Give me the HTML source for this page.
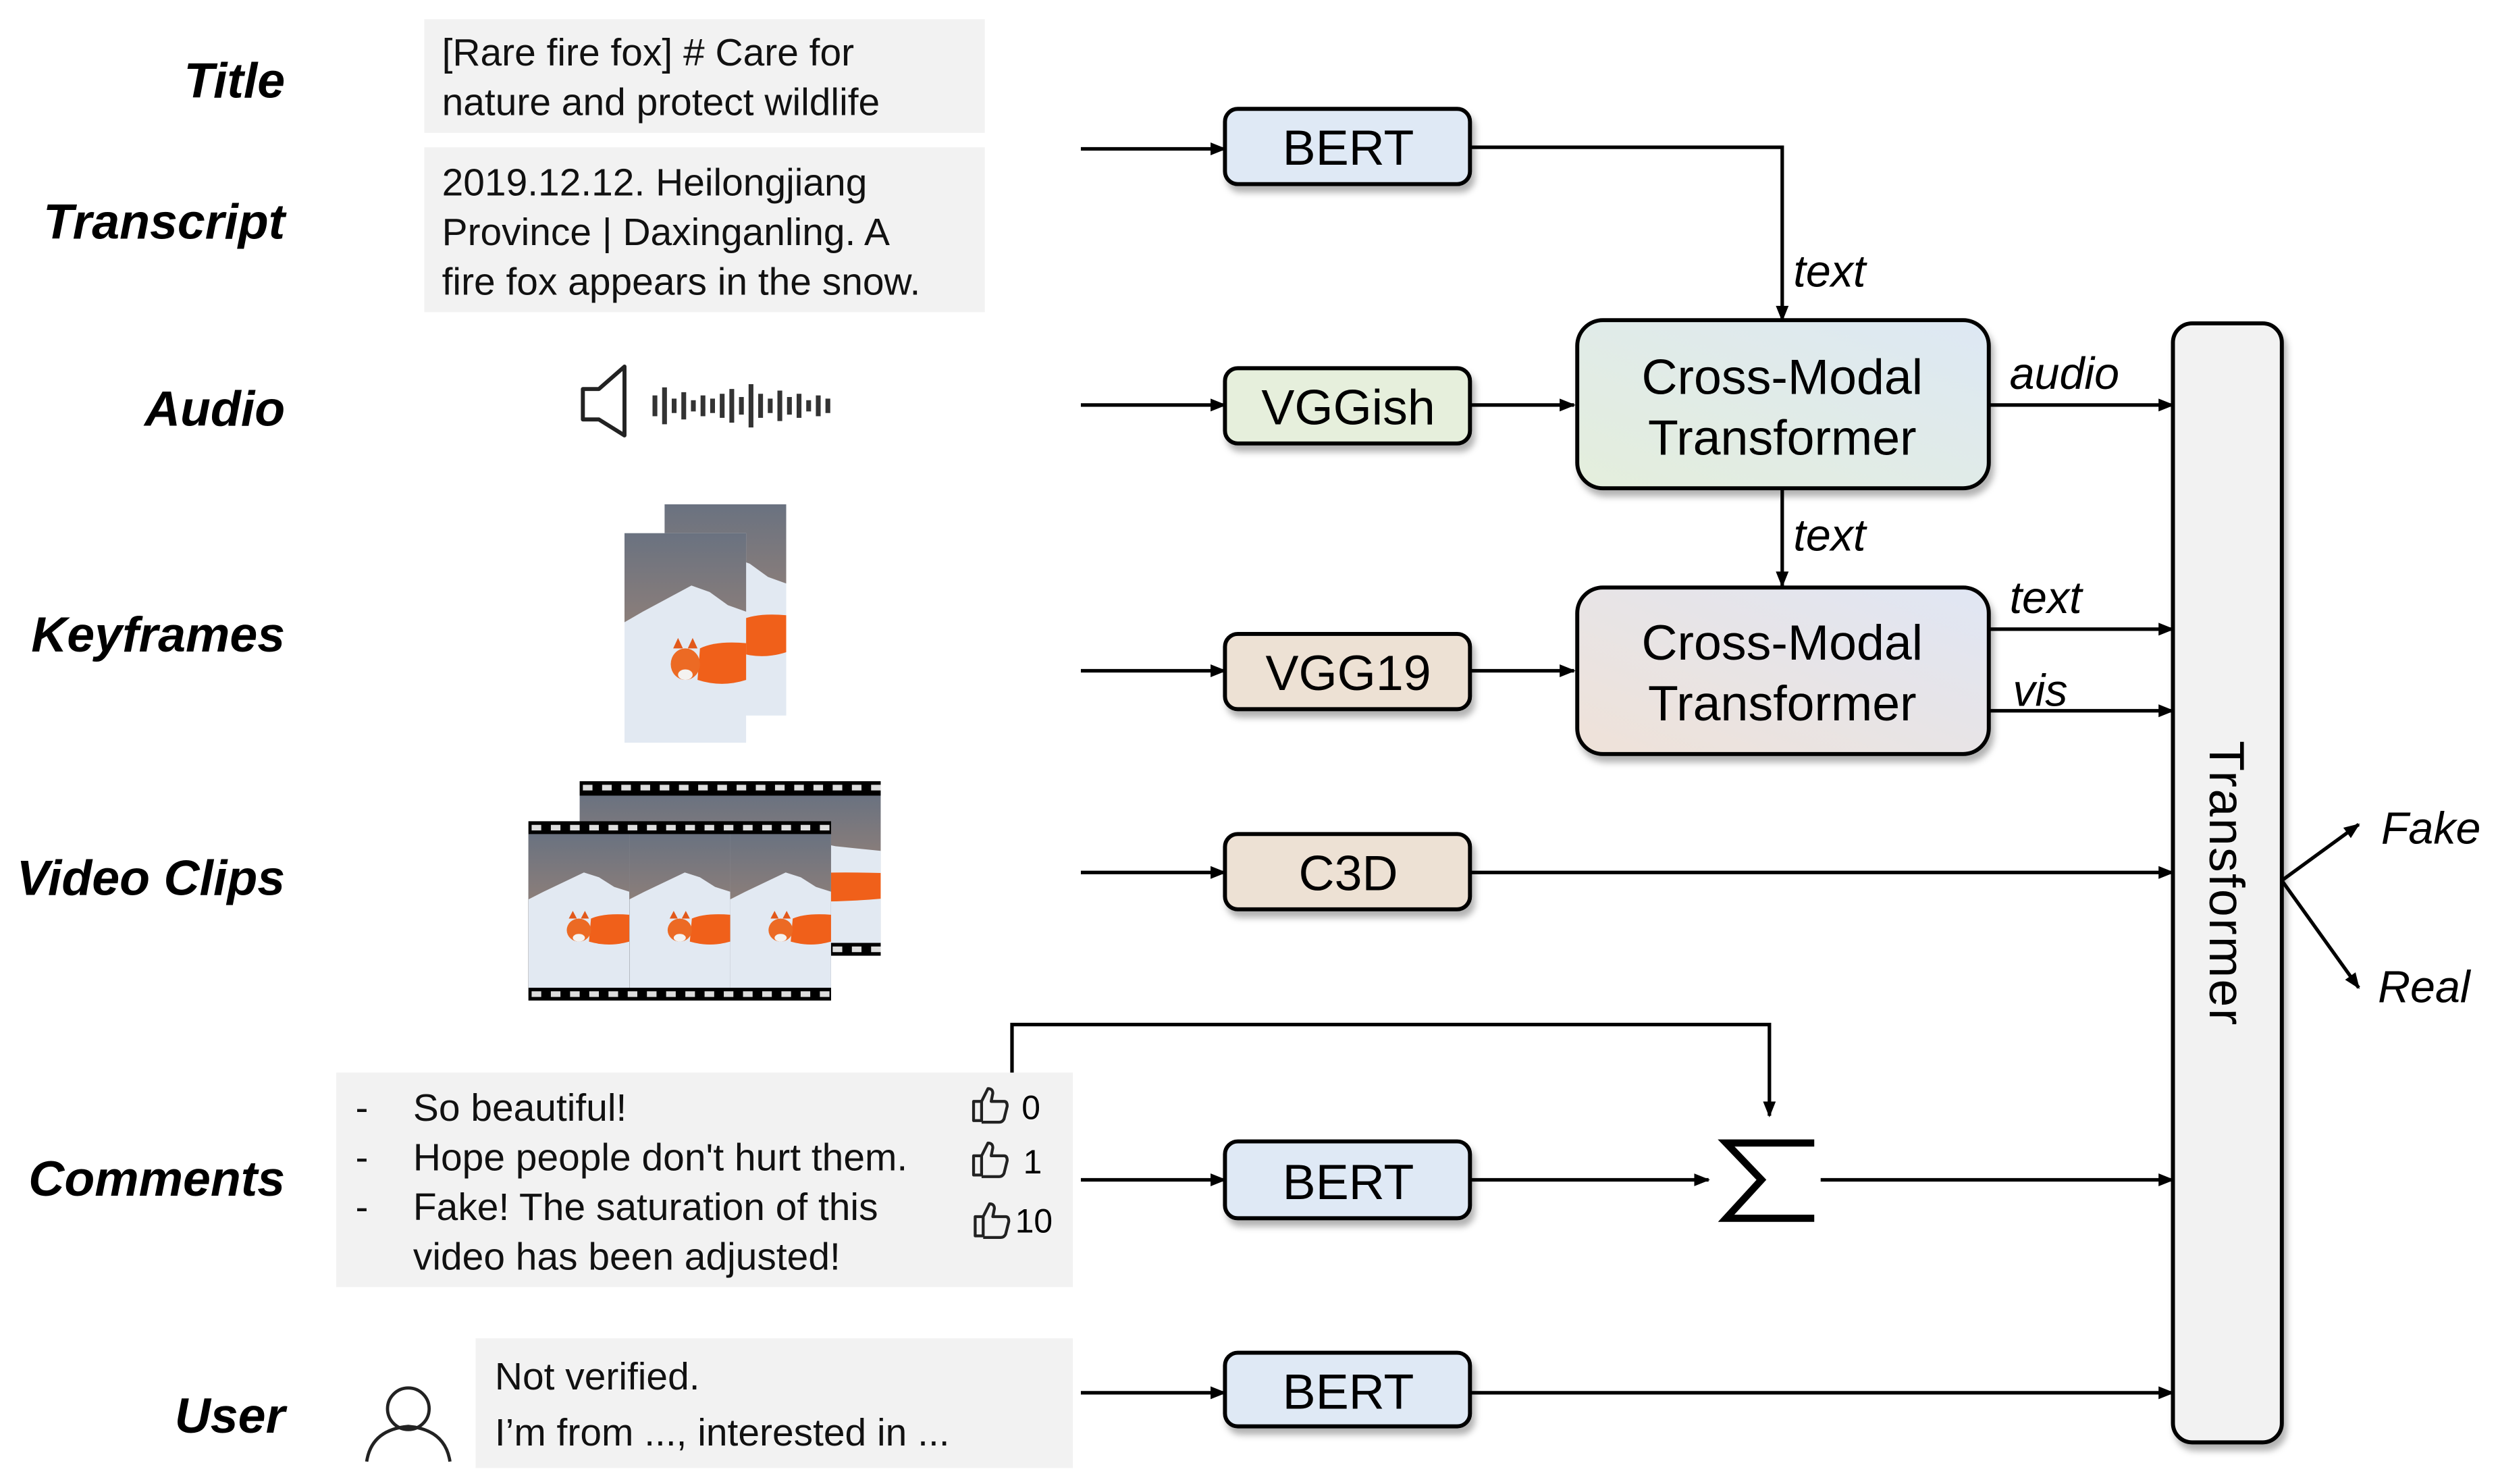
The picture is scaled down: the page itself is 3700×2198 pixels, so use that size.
<!DOCTYPE html>
<html><head><meta charset="utf-8"><style>
html,body{margin:0;padding:0;background:#fff;}
svg{display:block;}
text{font-family:"Liberation Sans",Arial,sans-serif;}
.lab{font-weight:bold;font-style:italic;font-size:31px;text-anchor:end;}
.bt{font-size:24px;fill:#111;}
.box{font-size:31px;text-anchor:middle;}
.it{font-style:italic;font-size:28px;}
</style></head><body>
<svg width="3700" height="2198" viewBox="0 0 1560 927" preserveAspectRatio="none" xmlns="http://www.w3.org/2000/svg">
<defs>
<marker id="ar" markerWidth="10" markerHeight="10" refX="9" refY="5" orient="auto" markerUnits="userSpaceOnUse">
<path d="M0,1 L10,5 L0,9 z" fill="#000"/></marker>
<filter id="sh" x="-10%" y="-10%" width="130%" height="140%"><feDropShadow dx="2" dy="4" stdDeviation="2" flood-color="#000" flood-opacity="0.3"/></filter>
<linearGradient id="g1" x1="0" y1="1" x2="1" y2="0"><stop offset="0" stop-color="#e4eedc"/><stop offset="1" stop-color="#dde8f4"/></linearGradient>
<linearGradient id="g2" x1="0" y1="1" x2="1" y2="0"><stop offset="0" stop-color="#efe2d8"/><stop offset="1" stop-color="#e0e6f4"/></linearGradient>
<linearGradient id="fr" x1="0" y1="0" x2="0" y2="1"><stop offset="0" stop-color="#6a7280"/><stop offset="1" stop-color="#8b7e7a"/></linearGradient>
<symbol id="pic" viewBox="0 0 100 160" preserveAspectRatio="none">
<rect width="100" height="160" fill="#e2e9f2"/>
<path d="M0,0 H100 V60 L85,55 L70,45 L55,40 L35,50 L15,60 L0,68 z" fill="url(#fr)"/>
<path d="M62,88 Q75,82 100,84 V112 Q80,118 60,112 z" fill="#f0601a"/>
<circle cx="50" cy="100" r="12" fill="#ec6a24"/>
<path d="M40,88 l4,-8 l4,8 z M52,88 l4,-8 l4,8 z" fill="#e2581a"/>
<ellipse cx="50" cy="108" rx="6" ry="4" fill="#f4f2f0"/>
</symbol>
</defs>

<text class="lab" x="178" y="61">Title</text>
<text class="lab" x="178" y="149">Transcript</text>
<text class="lab" x="178" y="266">Audio</text>
<text class="lab" x="178" y="407">Keyframes</text>
<text class="lab" x="178" y="559">Video Clips</text>
<text class="lab" x="178" y="747">Comments</text>
<text class="lab" x="178" y="895">User</text>

<rect x="265" y="12" width="350" height="71" fill="#f2f2f2"/>
<text class="bt" x="276" y="41">[Rare fire fox] # Care for</text>
<text class="bt" x="276" y="72">nature and protect wildlife</text>
<rect x="265" y="92" width="350" height="103" fill="#f2f2f2"/>
<text class="bt" x="276" y="122">2019.12.12. Heilongjiang</text>
<text class="bt" x="276" y="153">Province | Daxinganling. A</text>
<text class="bt" x="276" y="184">fire fox appears in the snow.</text>

<path d="M364,243 H374 L390,229 V272 L374,262 H364 z" fill="none" stroke="#222" stroke-width="2.5" stroke-linejoin="round"/>
<g stroke="#333" stroke-width="3">
<line x1="409" y1="247" x2="409" y2="260"/><line x1="415" y1="242" x2="415" y2="265"/><line x1="421" y1="249" x2="421" y2="258"/>
<line x1="427" y1="245" x2="427" y2="262"/><line x1="433" y1="250" x2="433" y2="257"/><line x1="439" y1="247" x2="439" y2="260"/>
<line x1="445" y1="249" x2="445" y2="258"/><line x1="451" y1="246" x2="451" y2="261"/><line x1="457" y1="243" x2="457" y2="264"/>
<line x1="463" y1="248" x2="463" y2="259"/><line x1="469" y1="240" x2="469" y2="267"/><line x1="475" y1="246" x2="475" y2="261"/>
<line x1="481" y1="249" x2="481" y2="258"/><line x1="487" y1="244" x2="487" y2="263"/><line x1="493" y1="248" x2="493" y2="259"/>
<line x1="499" y1="246" x2="499" y2="261"/><line x1="505" y1="250" x2="505" y2="257"/><line x1="511" y1="247" x2="511" y2="260"/>
<line x1="517" y1="249" x2="517" y2="258"/>
</g>

<use href="#pic" x="415" y="315" width="76" height="132"/>
<use href="#pic" x="390" y="333" width="76" height="131"/>

<rect x="362" y="488" width="188" height="109" fill="#000"/>
<line x1="364" y1="492" x2="550" y2="492" stroke="#ddd" stroke-width="3.5" stroke-dasharray="6,6"/>
<line x1="364" y1="593" x2="550" y2="593" stroke="#ddd" stroke-width="3.5" stroke-dasharray="6,6"/>
<use href="#pic" x="362" y="497" width="188" height="92"/>
<rect x="330" y="513" width="189" height="112" fill="#000"/>
<line x1="332" y1="517" x2="519" y2="517" stroke="#ddd" stroke-width="3.5" stroke-dasharray="6,6"/>
<line x1="332" y1="621" x2="519" y2="621" stroke="#ddd" stroke-width="3.5" stroke-dasharray="6,6"/>
<use href="#pic" x="330" y="521" width="63" height="96"/>
<use href="#pic" x="393" y="521" width="63" height="96"/>
<use href="#pic" x="456" y="521" width="63" height="96"/>

<rect x="210" y="670" width="460" height="134" fill="#f2f2f2"/>
<text class="bt" x="222" y="700">-</text><text class="bt" x="222" y="731">-</text><text class="bt" x="222" y="762">-</text>
<text class="bt" x="258" y="700">So beautiful!</text>
<text class="bt" x="258" y="731">Hope people don't hurt them.</text>
<text class="bt" x="258" y="762">Fake! The saturation of this</text>
<text class="bt" x="258" y="793">video has been adjusted!</text>
<g fill="none" stroke="#222" stroke-width="1.8" stroke-linejoin="round">
<path d="M608,688 h5 v12 h-5 z M613,688 l4,-8 q3,0 3,3 l-1,5 h8 q2,0 2,3 l-2,8 q-1,2 -3,2 h-11"/>
<path d="M608,722 h5 v12 h-5 z M613,722 l4,-8 q3,0 3,3 l-1,5 h8 q2,0 2,3 l-2,8 q-1,2 -3,2 h-11"/>
<path d="M609,760 h5 v12 h-5 z M614,760 l4,-8 q3,0 3,3 l-1,5 h8 q2,0 2,3 l-2,8 q-1,2 -3,2 h-11"/>
</g>
<text x="638" y="699" font-size="21">0</text>
<text x="639" y="733" font-size="21">1</text>
<text x="634" y="770" font-size="21">10</text>

<circle cx="255" cy="880" r="13" fill="none" stroke="#222" stroke-width="2"/>
<path d="M229,913 Q232,893 255,891 Q278,893 281,913" fill="none" stroke="#222" stroke-width="2"/>
<rect x="297" y="836" width="373" height="81" fill="#f2f2f2"/>
<text class="bt" x="309" y="868">Not verified.</text>
<text class="bt" x="309" y="903">I’m from ..., interested in ...</text>

<g stroke="#000" stroke-width="2.2" fill="none" marker-end="url(#ar)">
<line x1="675" y1="93" x2="765" y2="93"/>
<line x1="675" y1="253" x2="765" y2="253"/>
<line x1="675" y1="419" x2="765" y2="419"/>
<line x1="675" y1="545" x2="765" y2="545"/>
<line x1="675" y1="737" x2="765" y2="737"/>
<line x1="675" y1="870" x2="765" y2="870"/>
<polyline points="918,92 1113,92 1113,200"/>
<line x1="918" y1="253" x2="983" y2="253"/>
<line x1="918" y1="419" x2="983" y2="419"/>
<line x1="1113" y1="305" x2="1113" y2="366"/>
<line x1="1242" y1="253" x2="1357" y2="253"/>
<line x1="1242" y1="393" x2="1357" y2="393"/>
<line x1="1242" y1="444" x2="1357" y2="444"/>
<line x1="918" y1="545" x2="1357" y2="545"/>
<line x1="918" y1="737" x2="1067" y2="737"/>
<line x1="1137" y1="737" x2="1357" y2="737"/>
<line x1="918" y1="870" x2="1357" y2="870"/>
<polyline points="632,670 632,640 1105,640 1105,697"/>
<line x1="1425" y1="550" x2="1473" y2="515"/>
<line x1="1425" y1="550" x2="1473" y2="617"/>
</g>

<g stroke="#000" stroke-width="2.5" filter="url(#sh)">
<rect x="765" y="68" width="153" height="47" rx="8" fill="#dfe9f5"/>
<rect x="765" y="230" width="153" height="47" rx="8" fill="#e6efdc"/>
<rect x="765" y="396" width="153" height="47" rx="8" fill="#ede1d4"/>
<rect x="765" y="521" width="153" height="47" rx="8" fill="#ede1d4"/>
<rect x="765" y="713" width="153" height="48" rx="8" fill="#dfe9f5"/>
<rect x="765" y="845" width="153" height="46" rx="8" fill="#dfe9f5"/>
<rect x="985" y="200" width="257" height="105" rx="16" fill="url(#g1)"/>
<rect x="985" y="367" width="257" height="104" rx="16" fill="url(#g2)"/>
<rect x="1357" y="202" width="68" height="699" rx="12" fill="#f2f2f2"/>
</g>
<text class="box" x="842" y="103">BERT</text>
<text class="box" x="842" y="265">VGGish</text>
<text class="box" x="842" y="431">VGG19</text>
<text class="box" x="842" y="556">C3D</text>
<text class="box" x="842" y="749">BERT</text>
<text class="box" x="842" y="880">BERT</text>
<text class="box" x="1113" y="246">Cross-Modal</text>
<text class="box" x="1113" y="284">Transformer</text>
<text class="box" x="1113" y="412">Cross-Modal</text>
<text class="box" x="1113" y="450">Transformer</text>
<text class="box" transform="translate(1380,552) rotate(90)" x="0" y="0" font-size="33" letter-spacing="1">Transformer</text>

<path d="M1133,714 H1078 L1100,737 L1078,761 H1133" fill="none" stroke="#000" stroke-width="4.5"/>

<text class="it" x="1120" y="179">text</text>
<text class="it" x="1120" y="344">text</text>
<text class="it" x="1255" y="243">audio</text>
<text class="it" x="1255" y="383">text</text>
<text class="it" x="1257" y="441">vis</text>
<text class="it" x="1487" y="527" font-size="32">Fake</text>
<text class="it" x="1485" y="626" font-size="32">Real</text>
</svg>
</body></html>
